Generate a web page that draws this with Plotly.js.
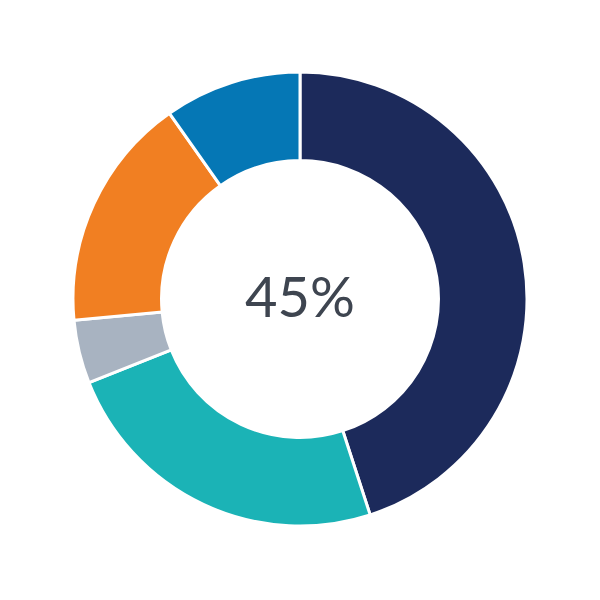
<!DOCTYPE html>
<html>
<head>
<meta charset="utf-8">
<script src="https://cdn.plot.ly/plotly-3.0.1.min.js"></script>
<style>
  html, body { margin: 0; padding: 0; background: #fff; }
  #myDiv { width: 600px; height: 600px; }
</style>
</head>
<body>
<div id="myDiv"></div>
<script>
// slice shares, clockwise from 12 o'clock
var labels = ['Navy', 'Teal', 'Grey', 'Orange', 'Blue'];
var shares = [45, 24, 4.5, 16.75, 9.75];
var colors = ['#1c2a5b', '#1bb3b6', '#a8b3c1', '#f17f22', '#0577b5'];
var centerLabel = '45%';

var trace = {
  type: 'pie',
  labels: labels,
  values: shares,
  hole: 0.61,
  sort: false,
  direction: 'clockwise',
  rotation: 0,
  textinfo: 'none',
  hoverinfo: 'label+percent',
  marker: { colors: colors, line: { color: '#ffffff', width: 3 } }
};

var layout = {
  width: 600,
  height: 600,
  margin: { l: 73, r: 73, t: 72, b: 74 },
  showlegend: false,
  paper_bgcolor: '#ffffff',
  annotations: [{
    text: centerLabel,
    x: 0.5, y: 0.5, xref: 'paper', yref: 'paper',
    yshift: 4,
    showarrow: false,
    font: { family: 'Lato, "Open Sans", sans-serif', size: 56, color: '#3e4550' }
  }]
};

Plotly.newPlot('myDiv', [trace], layout, { displayModeBar: false, staticPlot: true });
</script>
</body>
</html>
